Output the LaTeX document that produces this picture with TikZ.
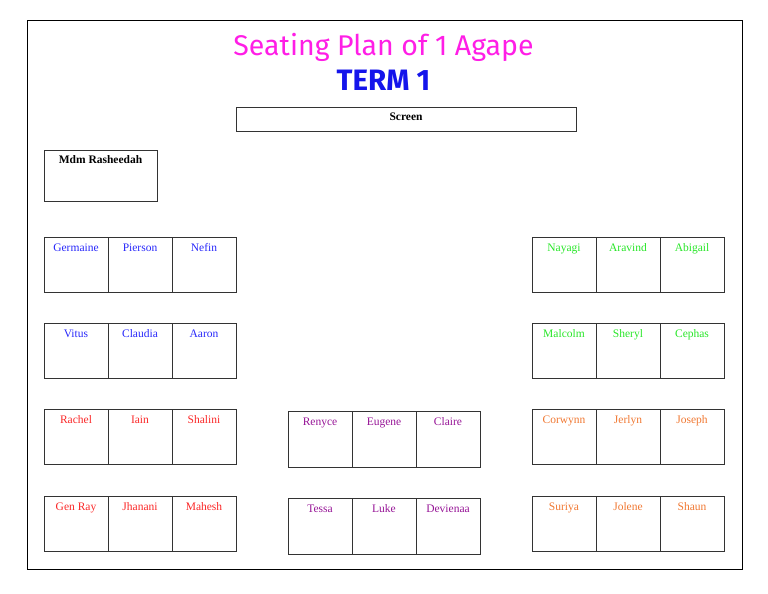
\documentclass[tikz,border=0pt]{standalone}
\usepackage{fontspec}
\setmainfont{Liberation Serif}
\newfontfamily\titlefont{Fira Sans}
\usepackage{xcolor}
\usetikzlibrary{positioning}

\definecolor{titlepink}{RGB}{255,30,230}
\definecolor{termblue}{RGB}{20,20,235}
\definecolor{nameblue}{RGB}{40,40,250}
\definecolor{namegreen}{RGB}{40,230,40}
\definecolor{namered}{RGB}{250,40,40}
\definecolor{namepurple}{RGB}{150,20,150}
\definecolor{nameorange}{RGB}{240,120,50}

\begin{document}
\begin{tikzpicture}[
  x=1pt, y=-1pt,
  frame/.style={draw=black, line width=0.8pt},
  seat/.style={draw=black!80, line width=0.8pt, anchor=north west, outer sep=0pt,
    minimum width=64pt, inner xsep=2pt, inner ysep=3pt,
    text height=11pt, text depth=38pt, font=\fontsize{11.5}{13}\selectfont},
  midseat/.style={seat, text depth=39pt},
  labelbox/.style={draw=black!80, line width=0.8pt, anchor=north west, outer sep=0pt,
    inner xsep=0pt, inner ysep=3pt, text height=10pt,
    font=\fontsize{11.5}{13}\selectfont\bfseries}
]
\useasboundingbox (0,0) rectangle (768,594);

% frame
\draw[frame] (27,20) rectangle (742,569);

% title
\node[anchor=base, text=titlepink, font=\titlefont\fontsize{28.5}{30}\selectfont] (title) at (383.5,56) {Seating Plan of 1 Agape};
\node[anchor=base, text=termblue, font=\titlefont\bfseries\fontsize{29.5}{30}\selectfont] (term) at (383.5,90) {TERM 1};

% screen and teacher
\node[labelbox, minimum width=340pt, text depth=8pt] (screen) at (236,107) {Screen};
\node[labelbox, minimum width=113pt, text depth=35pt] (teacher) at (44,150) {Mdm Rasheedah};

% --- left block ---
\foreach \row/\y/\col/\a/\b/\c in {
  L1/237/nameblue/Germaine/Pierson/Nefin,
  L2/323/nameblue/Vitus/Claudia/Aaron,
  L3/409/namered/Rachel/Iain/Shalini,
  L4/496/namered/Gen Ray/Jhanani/Mahesh}{
  \node[seat, text=\col] (\row-a) at (44,\y) {\a};
  \node[seat, text=\col, right=0pt of \row-a] (\row-b) {\b};
  \node[seat, text=\col, right=0pt of \row-b] (\row-c) {\c};
}

% --- right block ---
\foreach \row/\y/\col/\a/\b/\c in {
  R1/237/namegreen/Nayagi/Aravind/Abigail,
  R2/323/namegreen/Malcolm/Sheryl/Cephas,
  R3/409/nameorange/Corwynn/Jerlyn/Joseph,
  R4/496/nameorange/Suriya/Jolene/Shaun}{
  \node[seat, text=\col] (\row-a) at (532,\y) {\a};
  \node[seat, text=\col, right=0pt of \row-a] (\row-b) {\b};
  \node[seat, text=\col, right=0pt of \row-b] (\row-c) {\c};
}

% --- middle block ---
\foreach \row/\y/\a/\b/\c in {
  M1/411/Renyce/Eugene/Claire,
  M2/498/Tessa/Luke/Devienaa}{
  \node[midseat, text=namepurple] (\row-a) at (288,\y) {\a};
  \node[midseat, text=namepurple, right=0pt of \row-a] (\row-b) {\b};
  \node[midseat, text=namepurple, right=0pt of \row-b] (\row-c) {\c};
}

\end{tikzpicture}
\end{document}
